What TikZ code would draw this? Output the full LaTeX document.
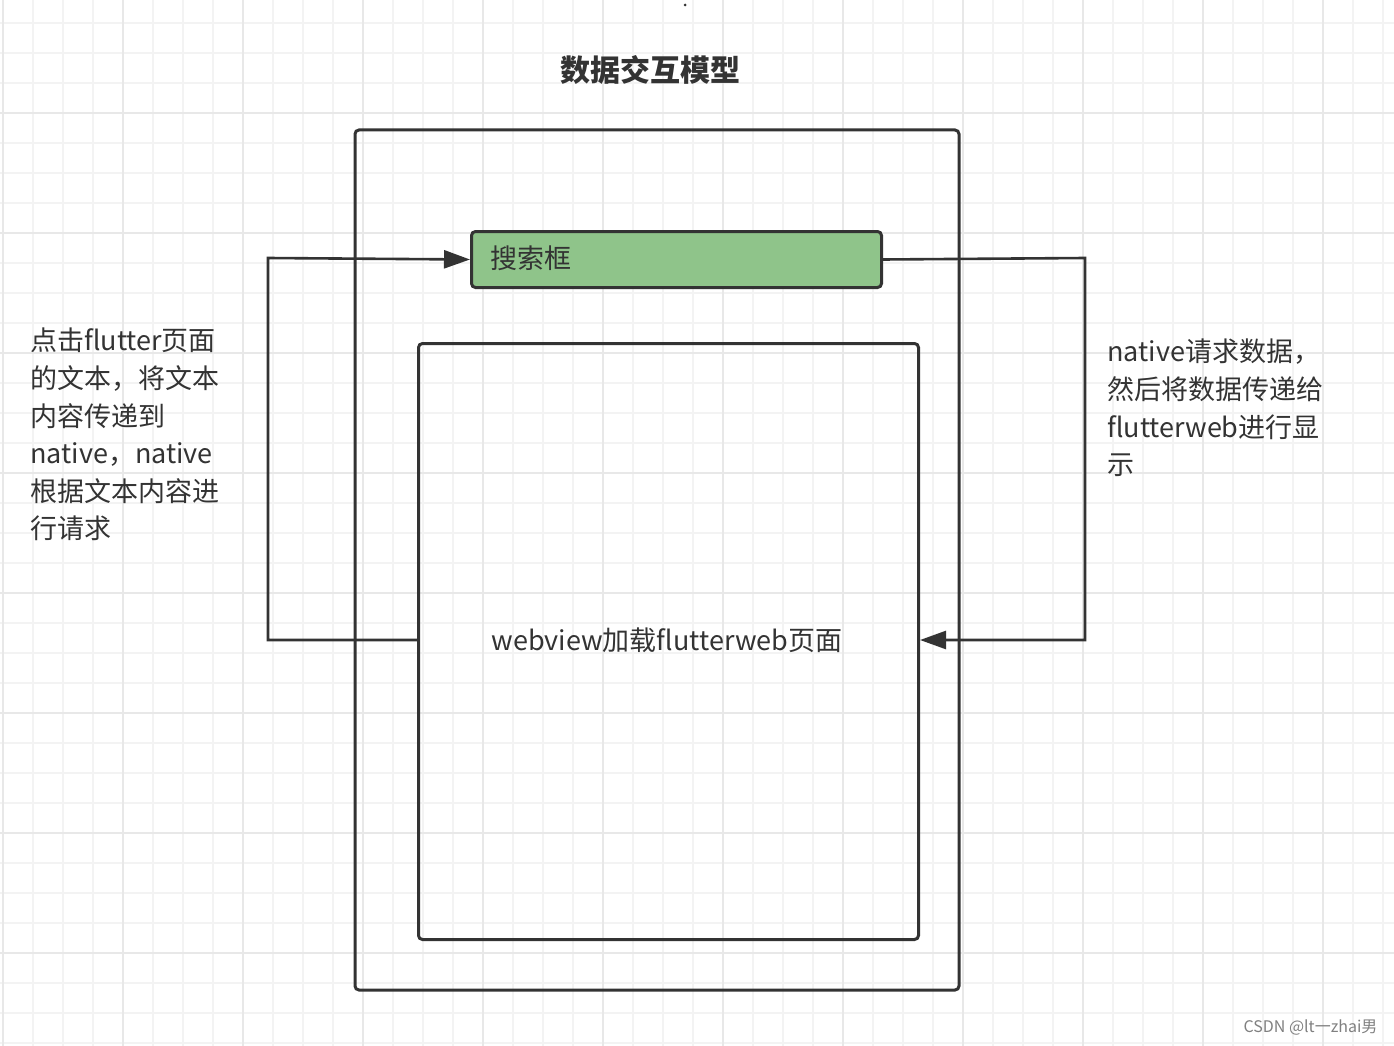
\documentclass[tikz,border=0pt]{standalone}
\usepackage{fontspec}
\setmainfont{Noto Sans CJK SC}
\usetikzlibrary{arrows.meta}
\definecolor{gridminor}{HTML}{F3F3F3}
\definecolor{gridmajor}{HTML}{E8E8E8}
\definecolor{lineC}{HTML}{333333}
\definecolor{greenF}{HTML}{8FC48A}
\tikzset{
 box/.style={draw=lineC,line width=3pt,rounded corners=4pt},
 conn/.style={draw=lineC,line width=2.6pt},
 arr/.style={conn,-{Triangle[length=26pt,width=18pt]}},
 lbl/.style={font=\fontsize{27pt}{37.6pt}\selectfont,text=lineC,align=left,inner sep=0pt}
}
\begin{document}
\begin{tikzpicture}[x=1pt,y=-1pt]
\useasboundingbox (0,0) rectangle (1394,1046);
\foreach \i in {0,...,46} {\draw[gridminor,line width=1.2pt] (3+30*\i,0) -- (3+30*\i,1046);}
\foreach \i in {0,...,34} {\draw[gridminor,line width=1.2pt] (0,23+30*\i) -- (1394,23+30*\i);}
\foreach \i in {0,...,11} {\draw[gridmajor,line width=1.4pt] (3+120*\i,0) -- (3+120*\i,1046);}
\foreach \i in {0,...,8} {\draw[gridmajor,line width=1.4pt] (0,113+120*\i) -- (1394,113+120*\i);}
\fill[lineC] (685,5) circle (1.5pt);
\node[font=\fontsize{30pt}{36pt}\selectfont\bfseries,text=lineC] (title) at (650,70) {数据交互模型};
\path[box] (355,130) rectangle (959,990);
\node[box,fill=greenF,minimum width=410pt,minimum height=56pt,anchor=north west] (search) at (470,230) {};
\node[lbl,anchor=west] at (490,258) {搜索框};
\node[box,minimum width=500pt,minimum height=596pt,anchor=north west] (web) at (417,342) {};
\node[lbl,anchor=center] at (667,640) {webview加载flutterweb页面};
\coordinate (l1) at (268,640); \coordinate (l2) at (268,258);
\coordinate (r1) at (1085,258); \coordinate (r2) at (1085,640);
\draw[arr] (web.west |- 0,640) -- (l1) -- (l2) -- (search.west);
\draw[arr] (search.east) -- (r1) -- (r2) -- (web.east |- 0,640);
\node[lbl,anchor=north west] (lt) at (30,328) {点击flutter页面\\的文本，将文本\\内容传递到\\native，native\\根据文本内容进\\行请求};
\node[lbl,anchor=north west] (rt) at (1107,339) {native请求数据，\\然后将数据传递给\\flutterweb进行显\\示};
\node[font=\fontsize{16pt}{18pt}\selectfont,text=gray,anchor=east] (wm) at (1381,1028) {CSDN @lt一zhai男};
\end{tikzpicture}
\end{document}
